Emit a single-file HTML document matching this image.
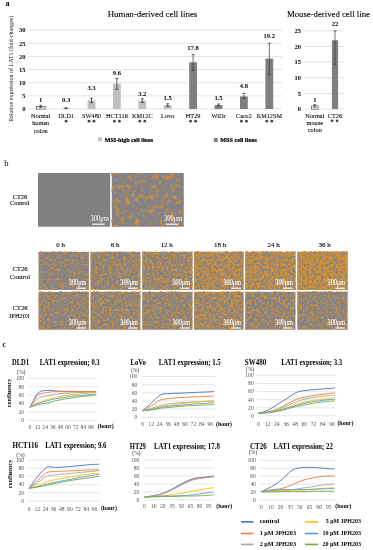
<!DOCTYPE html>
<html><head><meta charset="utf-8"><style>
html,body{margin:0;padding:0;background:#fff;}
svg{display:block;will-change:transform;}
</style></head><body>
<svg width="373" height="550" viewBox="0 0 373 550">
<defs>
<filter id="f12_20_5" x="0" y="0" width="1" height="1" color-interpolation-filters="sRGB">
<feTurbulence type="fractalNoise" baseFrequency="0.2" numOctaves="3" seed="5" result="n"/>
<feColorMatrix in="n" type="matrix" values="0 0 0 0 0.84  0 0 0 0 0.57  0 0 0 0 0.18  3.5 0 0 0 -1.743"/>
<feGaussianBlur stdDeviation="0.6"/>
</filter>
<filter id="f16_42_11" x="0" y="0" width="1" height="1" color-interpolation-filters="sRGB">
<feTurbulence type="fractalNoise" baseFrequency="0.42" numOctaves="3" seed="11" result="n"/>
<feColorMatrix in="n" type="matrix" values="0 0 0 0 0.84  0 0 0 0 0.57  0 0 0 0 0.18  3.5 0 0 0 -1.668"/>
<feGaussianBlur stdDeviation="0.6"/>
</filter>
<filter id="f25_42_12" x="0" y="0" width="1" height="1" color-interpolation-filters="sRGB">
<feTurbulence type="fractalNoise" baseFrequency="0.42" numOctaves="3" seed="12" result="n"/>
<feColorMatrix in="n" type="matrix" values="0 0 0 0 0.84  0 0 0 0 0.57  0 0 0 0 0.18  3.5 0 0 0 -1.533"/>
<feGaussianBlur stdDeviation="0.6"/>
</filter>
<filter id="f30_42_13" x="0" y="0" width="1" height="1" color-interpolation-filters="sRGB">
<feTurbulence type="fractalNoise" baseFrequency="0.42" numOctaves="3" seed="13" result="n"/>
<feColorMatrix in="n" type="matrix" values="0 0 0 0 0.84  0 0 0 0 0.57  0 0 0 0 0.18  3.5 0 0 0 -1.470"/>
<feGaussianBlur stdDeviation="0.6"/>
</filter>
<filter id="f50_42_14" x="0" y="0" width="1" height="1" color-interpolation-filters="sRGB">
<feTurbulence type="fractalNoise" baseFrequency="0.42" numOctaves="3" seed="14" result="n"/>
<feColorMatrix in="n" type="matrix" values="0 0 0 0 0.84  0 0 0 0 0.57  0 0 0 0 0.18  3.5 0 0 0 -1.250"/>
<feGaussianBlur stdDeviation="0.6"/>
</filter>
<filter id="f55_42_15" x="0" y="0" width="1" height="1" color-interpolation-filters="sRGB">
<feTurbulence type="fractalNoise" baseFrequency="0.42" numOctaves="3" seed="15" result="n"/>
<feColorMatrix in="n" type="matrix" values="0 0 0 0 0.84  0 0 0 0 0.57  0 0 0 0 0.18  3.5 0 0 0 -1.197"/>
<feGaussianBlur stdDeviation="0.6"/>
</filter>
<filter id="f66_42_16" x="0" y="0" width="1" height="1" color-interpolation-filters="sRGB">
<feTurbulence type="fractalNoise" baseFrequency="0.42" numOctaves="3" seed="16" result="n"/>
<feColorMatrix in="n" type="matrix" values="0 0 0 0 0.84  0 0 0 0 0.57  0 0 0 0 0.18  3.5 0 0 0 -1.077"/>
<feGaussianBlur stdDeviation="0.6"/>
</filter>
<filter id="f20_42_18" x="0" y="0" width="1" height="1" color-interpolation-filters="sRGB">
<feTurbulence type="fractalNoise" baseFrequency="0.42" numOctaves="3" seed="18" result="n"/>
<feColorMatrix in="n" type="matrix" values="0 0 0 0 0.84  0 0 0 0 0.57  0 0 0 0 0.18  3.5 0 0 0 -1.603"/>
<feGaussianBlur stdDeviation="0.6"/>
</filter>
<filter id="f25_42_19" x="0" y="0" width="1" height="1" color-interpolation-filters="sRGB">
<feTurbulence type="fractalNoise" baseFrequency="0.42" numOctaves="3" seed="19" result="n"/>
<feColorMatrix in="n" type="matrix" values="0 0 0 0 0.84  0 0 0 0 0.57  0 0 0 0 0.18  3.5 0 0 0 -1.533"/>
<feGaussianBlur stdDeviation="0.6"/>
</filter>
<filter id="f23_42_20" x="0" y="0" width="1" height="1" color-interpolation-filters="sRGB">
<feTurbulence type="fractalNoise" baseFrequency="0.42" numOctaves="3" seed="20" result="n"/>
<feColorMatrix in="n" type="matrix" values="0 0 0 0 0.84  0 0 0 0 0.57  0 0 0 0 0.18  3.5 0 0 0 -1.560"/>
<feGaussianBlur stdDeviation="0.6"/>
</filter>
<filter id="f36_42_21" x="0" y="0" width="1" height="1" color-interpolation-filters="sRGB">
<feTurbulence type="fractalNoise" baseFrequency="0.42" numOctaves="3" seed="21" result="n"/>
<feColorMatrix in="n" type="matrix" values="0 0 0 0 0.84  0 0 0 0 0.57  0 0 0 0 0.18  3.5 0 0 0 -1.401"/>
<feGaussianBlur stdDeviation="0.6"/>
</filter>
<filter id="f22_42_22" x="0" y="0" width="1" height="1" color-interpolation-filters="sRGB">
<feTurbulence type="fractalNoise" baseFrequency="0.42" numOctaves="3" seed="22" result="n"/>
<feColorMatrix in="n" type="matrix" values="0 0 0 0 0.84  0 0 0 0 0.57  0 0 0 0 0.18  3.5 0 0 0 -1.574"/>
<feGaussianBlur stdDeviation="0.6"/>
</filter>
<filter id="f20_42_23" x="0" y="0" width="1" height="1" color-interpolation-filters="sRGB">
<feTurbulence type="fractalNoise" baseFrequency="0.42" numOctaves="3" seed="23" result="n"/>
<feColorMatrix in="n" type="matrix" values="0 0 0 0 0.84  0 0 0 0 0.57  0 0 0 0 0.18  3.5 0 0 0 -1.603"/>
<feGaussianBlur stdDeviation="0.6"/>
</filter>
</defs>
<rect x="0" y="0" width="373" height="550" fill="#fff"/>
<text x="5.50" y="6.00" font-size="8" text-anchor="start" font-weight="700" fill="#000" font-family='"Liberation Serif", serif' >a</text>
<text x="107.70" y="16.50" font-size="9.2" text-anchor="start" font-weight="400" fill="#000" font-family='"Liberation Serif", serif' textLength="89.6" lengthAdjust="spacingAndGlyphs" stroke="#000" stroke-width="0.12">Human-derived cell lines</text>
<text x="286.90" y="16.90" font-size="9.2" text-anchor="start" font-weight="400" fill="#000" font-family='"Liberation Serif", serif' textLength="83" lengthAdjust="spacingAndGlyphs" stroke="#000" stroke-width="0.12">Mouse-derived cell line</text>
<text transform="translate(13.4,68.8) rotate(-90)" x="0" y="0" font-size="6" text-anchor="middle" font-family='"Liberation Serif", serif' textLength="106" lengthAdjust="spacingAndGlyphs" fill="#222">Relative expression of LAT1 (fold-changes)</text>
<line x1="28.00" y1="109.00" x2="282.00" y2="109.00" stroke="#dcdcdc" stroke-width="0.8"/>
<text x="25.50" y="111.21" font-size="6.5" text-anchor="end" font-weight="700" fill="#000" font-family='"Liberation Serif", serif' >0</text>
<line x1="28.00" y1="95.87" x2="282.00" y2="95.87" stroke="#dcdcdc" stroke-width="0.8"/>
<text x="25.50" y="98.08" font-size="6.5" text-anchor="end" font-weight="700" fill="#000" font-family='"Liberation Serif", serif' >5</text>
<line x1="28.00" y1="82.73" x2="282.00" y2="82.73" stroke="#dcdcdc" stroke-width="0.8"/>
<text x="25.50" y="84.94" font-size="6.5" text-anchor="end" font-weight="700" fill="#000" font-family='"Liberation Serif", serif' >10</text>
<line x1="28.00" y1="69.59" x2="282.00" y2="69.59" stroke="#dcdcdc" stroke-width="0.8"/>
<text x="25.50" y="71.80" font-size="6.5" text-anchor="end" font-weight="700" fill="#000" font-family='"Liberation Serif", serif' >15</text>
<line x1="28.00" y1="56.46" x2="282.00" y2="56.46" stroke="#dcdcdc" stroke-width="0.8"/>
<text x="25.50" y="58.67" font-size="6.5" text-anchor="end" font-weight="700" fill="#000" font-family='"Liberation Serif", serif' >20</text>
<line x1="28.00" y1="43.33" x2="282.00" y2="43.33" stroke="#dcdcdc" stroke-width="0.8"/>
<text x="25.50" y="45.54" font-size="6.5" text-anchor="end" font-weight="700" fill="#000" font-family='"Liberation Serif", serif' >25</text>
<line x1="28.00" y1="30.19" x2="282.00" y2="30.19" stroke="#dcdcdc" stroke-width="0.8"/>
<text x="25.50" y="32.40" font-size="6.5" text-anchor="end" font-weight="700" fill="#000" font-family='"Liberation Serif", serif' >30</text>
<line x1="304.30" y1="109.10" x2="343.90" y2="109.10" stroke="#dcdcdc" stroke-width="0.8"/>
<text x="301.00" y="111.31" font-size="6.5" text-anchor="end" font-weight="700" fill="#000" font-family='"Liberation Serif", serif' >0</text>
<line x1="304.30" y1="93.45" x2="343.90" y2="93.45" stroke="#dcdcdc" stroke-width="0.8"/>
<text x="301.00" y="95.66" font-size="6.5" text-anchor="end" font-weight="700" fill="#000" font-family='"Liberation Serif", serif' >5</text>
<line x1="304.30" y1="77.80" x2="343.90" y2="77.80" stroke="#dcdcdc" stroke-width="0.8"/>
<text x="301.00" y="80.01" font-size="6.5" text-anchor="end" font-weight="700" fill="#000" font-family='"Liberation Serif", serif' >10</text>
<line x1="304.30" y1="62.15" x2="343.90" y2="62.15" stroke="#dcdcdc" stroke-width="0.8"/>
<text x="301.00" y="64.36" font-size="6.5" text-anchor="end" font-weight="700" fill="#000" font-family='"Liberation Serif", serif' >15</text>
<line x1="304.30" y1="46.50" x2="343.90" y2="46.50" stroke="#dcdcdc" stroke-width="0.8"/>
<text x="301.00" y="48.71" font-size="6.5" text-anchor="end" font-weight="700" fill="#000" font-family='"Liberation Serif", serif' >20</text>
<line x1="304.30" y1="30.85" x2="343.90" y2="30.85" stroke="#dcdcdc" stroke-width="0.8"/>
<text x="301.00" y="33.06" font-size="6.5" text-anchor="end" font-weight="700" fill="#000" font-family='"Liberation Serif", serif' >25</text>
<rect x="36.20" y="106.37" width="9.00" height="2.63" fill="white" stroke="#222" stroke-width="0.55"/>
<line x1="40.70" y1="105.32" x2="40.70" y2="107.42" stroke="#222" stroke-width="0.7"/>
<line x1="39.20" y1="105.32" x2="42.20" y2="105.32" stroke="#222" stroke-width="0.7"/>
<line x1="39.20" y1="107.42" x2="42.20" y2="107.42" stroke="#222" stroke-width="0.7"/>
<text x="40.70" y="102.04" font-size="6.6" text-anchor="middle" font-weight="700" fill="#000" font-family='"Liberation Serif", serif' >1</text>
<text x="40.70" y="118.25" font-size="6.9" text-anchor="middle" font-weight="400" fill="#000" font-family='"Liberation Serif", serif' stroke="#000" stroke-width="0.08" textLength="19.25" lengthAdjust="spacingAndGlyphs">Normal</text>
<text x="40.70" y="125.45" font-size="6.9" text-anchor="middle" font-weight="400" fill="#000" font-family='"Liberation Serif", serif' stroke="#000" stroke-width="0.08" textLength="17.14" lengthAdjust="spacingAndGlyphs">human</text>
<text x="40.70" y="132.65" font-size="6.9" text-anchor="middle" font-weight="400" fill="#000" font-family='"Liberation Serif", serif' stroke="#000" stroke-width="0.08" textLength="14" lengthAdjust="spacingAndGlyphs">colon</text>
<rect x="62.20" y="108.21" width="7.80" height="0.79" fill="#c0c0c0" stroke="none" stroke-width="0"/>
<line x1="66.10" y1="107.82" x2="66.10" y2="108.61" stroke="#222" stroke-width="0.7"/>
<line x1="64.60" y1="107.82" x2="67.60" y2="107.82" stroke="#222" stroke-width="0.7"/>
<line x1="64.60" y1="108.61" x2="67.60" y2="108.61" stroke="#222" stroke-width="0.7"/>
<text x="66.10" y="102.04" font-size="6.6" text-anchor="middle" font-weight="700" fill="#000" font-family='"Liberation Serif", serif' >0.3</text>
<text x="66.10" y="118.25" font-size="6.9" text-anchor="middle" font-weight="400" fill="#000" font-family='"Liberation Serif", serif' stroke="#000" stroke-width="0.08" textLength="15.6" lengthAdjust="spacingAndGlyphs">DLD1</text>
<circle cx="66.10" cy="121.20" r="1.4" fill="#444"/>
<rect x="87.60" y="100.33" width="7.80" height="8.67" fill="#c0c0c0" stroke="none" stroke-width="0"/>
<line x1="91.50" y1="98.23" x2="91.50" y2="102.70" stroke="#222" stroke-width="0.7"/>
<line x1="90.00" y1="98.23" x2="93.00" y2="98.23" stroke="#222" stroke-width="0.7"/>
<line x1="90.00" y1="102.70" x2="93.00" y2="102.70" stroke="#222" stroke-width="0.7"/>
<text x="91.50" y="90.24" font-size="6.6" text-anchor="middle" font-weight="700" fill="#000" font-family='"Liberation Serif", serif' >3.3</text>
<text x="91.50" y="118.25" font-size="6.9" text-anchor="middle" font-weight="400" fill="#000" font-family='"Liberation Serif", serif' stroke="#000" stroke-width="0.08" textLength="18.91" lengthAdjust="spacingAndGlyphs">SW480</text>
<circle cx="89.00" cy="121.20" r="1.4" fill="#444"/>
<circle cx="94.00" cy="121.20" r="1.4" fill="#444"/>
<rect x="113.00" y="83.78" width="7.80" height="25.22" fill="#c0c0c0" stroke="none" stroke-width="0"/>
<line x1="116.90" y1="78.53" x2="116.90" y2="89.30" stroke="#222" stroke-width="0.7"/>
<line x1="115.40" y1="78.53" x2="118.40" y2="78.53" stroke="#222" stroke-width="0.7"/>
<line x1="115.40" y1="89.30" x2="118.40" y2="89.30" stroke="#222" stroke-width="0.7"/>
<text x="116.90" y="74.74" font-size="6.6" text-anchor="middle" font-weight="700" fill="#000" font-family='"Liberation Serif", serif' >9.6</text>
<text x="116.90" y="118.25" font-size="6.9" text-anchor="middle" font-weight="400" fill="#000" font-family='"Liberation Serif", serif' stroke="#000" stroke-width="0.08" textLength="21.81" lengthAdjust="spacingAndGlyphs">HCT116</text>
<circle cx="114.40" cy="121.20" r="1.4" fill="#444"/>
<circle cx="119.40" cy="121.20" r="1.4" fill="#444"/>
<rect x="138.40" y="100.59" width="7.80" height="8.41" fill="#c0c0c0" stroke="none" stroke-width="0"/>
<line x1="142.30" y1="98.75" x2="142.30" y2="102.43" stroke="#222" stroke-width="0.7"/>
<line x1="140.80" y1="98.75" x2="143.80" y2="98.75" stroke="#222" stroke-width="0.7"/>
<line x1="140.80" y1="102.43" x2="143.80" y2="102.43" stroke="#222" stroke-width="0.7"/>
<text x="142.30" y="96.04" font-size="6.6" text-anchor="middle" font-weight="700" fill="#000" font-family='"Liberation Serif", serif' >3.2</text>
<text x="142.30" y="118.25" font-size="6.9" text-anchor="middle" font-weight="400" fill="#000" font-family='"Liberation Serif", serif' stroke="#000" stroke-width="0.08" textLength="20.66" lengthAdjust="spacingAndGlyphs">KM12C</text>
<circle cx="139.80" cy="121.20" r="1.4" fill="#444"/>
<circle cx="144.80" cy="121.20" r="1.4" fill="#444"/>
<rect x="163.80" y="105.06" width="7.80" height="3.94" fill="#c0c0c0" stroke="none" stroke-width="0"/>
<line x1="167.70" y1="103.75" x2="167.70" y2="106.37" stroke="#222" stroke-width="0.7"/>
<line x1="166.20" y1="103.75" x2="169.20" y2="103.75" stroke="#222" stroke-width="0.7"/>
<line x1="166.20" y1="106.37" x2="169.20" y2="106.37" stroke="#222" stroke-width="0.7"/>
<text x="167.70" y="100.04" font-size="6.6" text-anchor="middle" font-weight="700" fill="#000" font-family='"Liberation Serif", serif' >1.5</text>
<text x="167.70" y="118.25" font-size="6.9" text-anchor="middle" font-weight="400" fill="#000" font-family='"Liberation Serif", serif' stroke="#000" stroke-width="0.08" textLength="13.3" lengthAdjust="spacingAndGlyphs">Lovo</text>
<rect x="189.20" y="62.24" width="7.80" height="46.76" fill="#7f7f7f" stroke="none" stroke-width="0"/>
<line x1="193.10" y1="54.62" x2="193.10" y2="70.38" stroke="#333" stroke-width="0.7"/>
<line x1="191.60" y1="54.62" x2="194.60" y2="54.62" stroke="#333" stroke-width="0.7"/>
<line x1="191.60" y1="70.38" x2="194.60" y2="70.38" stroke="#333" stroke-width="0.7"/>
<text x="193.10" y="49.94" font-size="6.6" text-anchor="middle" font-weight="700" fill="#000" font-family='"Liberation Serif", serif' >17.8</text>
<text x="193.10" y="118.25" font-size="6.9" text-anchor="middle" font-weight="400" fill="#000" font-family='"Liberation Serif", serif' stroke="#000" stroke-width="0.08" textLength="14.7" lengthAdjust="spacingAndGlyphs">HT29</text>
<circle cx="190.60" cy="121.20" r="1.4" fill="#444"/>
<circle cx="195.60" cy="121.20" r="1.4" fill="#444"/>
<rect x="214.60" y="105.06" width="7.80" height="3.94" fill="#7f7f7f" stroke="none" stroke-width="0"/>
<line x1="218.50" y1="104.01" x2="218.50" y2="105.85" stroke="#333" stroke-width="0.7"/>
<line x1="217.00" y1="104.01" x2="220.00" y2="104.01" stroke="#333" stroke-width="0.7"/>
<line x1="217.00" y1="105.85" x2="220.00" y2="105.85" stroke="#333" stroke-width="0.7"/>
<text x="218.50" y="99.64" font-size="6.6" text-anchor="middle" font-weight="700" fill="#000" font-family='"Liberation Serif", serif' >1.5</text>
<text x="218.50" y="118.25" font-size="6.9" text-anchor="middle" font-weight="400" fill="#000" font-family='"Liberation Serif", serif' stroke="#000" stroke-width="0.08" textLength="14.09" lengthAdjust="spacingAndGlyphs">WiDr</text>
<rect x="240.00" y="96.39" width="7.80" height="12.61" fill="#7f7f7f" stroke="none" stroke-width="0"/>
<line x1="243.90" y1="93.50" x2="243.90" y2="98.49" stroke="#333" stroke-width="0.7"/>
<line x1="242.40" y1="93.50" x2="245.40" y2="93.50" stroke="#333" stroke-width="0.7"/>
<line x1="242.40" y1="98.49" x2="245.40" y2="98.49" stroke="#333" stroke-width="0.7"/>
<text x="243.90" y="87.64" font-size="6.6" text-anchor="middle" font-weight="700" fill="#000" font-family='"Liberation Serif", serif' >4.8</text>
<text x="243.90" y="118.25" font-size="6.9" text-anchor="middle" font-weight="400" fill="#000" font-family='"Liberation Serif", serif' stroke="#000" stroke-width="0.08" textLength="15.6" lengthAdjust="spacingAndGlyphs">Caco2</text>
<circle cx="241.40" cy="121.20" r="1.4" fill="#444"/>
<circle cx="246.40" cy="121.20" r="1.4" fill="#444"/>
<rect x="265.40" y="58.56" width="7.80" height="50.44" fill="#7f7f7f" stroke="none" stroke-width="0"/>
<line x1="269.30" y1="43.33" x2="269.30" y2="74.59" stroke="#333" stroke-width="0.7"/>
<line x1="267.80" y1="43.33" x2="270.80" y2="43.33" stroke="#333" stroke-width="0.7"/>
<line x1="267.80" y1="74.59" x2="270.80" y2="74.59" stroke="#333" stroke-width="0.7"/>
<text x="269.30" y="37.54" font-size="6.6" text-anchor="middle" font-weight="700" fill="#000" font-family='"Liberation Serif", serif' >19.2</text>
<text x="269.30" y="118.25" font-size="6.9" text-anchor="middle" font-weight="400" fill="#000" font-family='"Liberation Serif", serif' stroke="#000" stroke-width="0.08" textLength="25.3" lengthAdjust="spacingAndGlyphs">KM12SM</text>
<circle cx="266.80" cy="121.20" r="1.4" fill="#444"/>
<circle cx="271.80" cy="121.20" r="1.4" fill="#444"/>
<rect x="311.55" y="105.97" width="6.50" height="3.13" fill="white" stroke="#222" stroke-width="0.55"/>
<line x1="314.80" y1="104.72" x2="314.80" y2="107.22" stroke="#222" stroke-width="0.7"/>
<line x1="313.30" y1="104.72" x2="316.30" y2="104.72" stroke="#222" stroke-width="0.7"/>
<line x1="313.30" y1="107.22" x2="316.30" y2="107.22" stroke="#222" stroke-width="0.7"/>
<text x="314.80" y="102.24" font-size="6.6" text-anchor="middle" font-weight="700" fill="#000" font-family='"Liberation Serif", serif' >1</text>
<text x="314.80" y="118.35" font-size="6.9" text-anchor="middle" font-weight="400" fill="#000" font-family='"Liberation Serif", serif' stroke="#000" stroke-width="0.08" textLength="19.25" lengthAdjust="spacingAndGlyphs">Normal</text>
<text x="314.80" y="125.25" font-size="6.9" text-anchor="middle" font-weight="400" fill="#000" font-family='"Liberation Serif", serif' stroke="#000" stroke-width="0.08" textLength="16.45" lengthAdjust="spacingAndGlyphs">mouse</text>
<text x="314.80" y="132.15" font-size="6.9" text-anchor="middle" font-weight="400" fill="#000" font-family='"Liberation Serif", serif' stroke="#000" stroke-width="0.08" textLength="14" lengthAdjust="spacingAndGlyphs">colon</text>
<rect x="331.90" y="40.24" width="6.20" height="68.86" fill="#7f7f7f" stroke="none" stroke-width="0"/>
<line x1="335.00" y1="30.85" x2="335.00" y2="64.34" stroke="#333" stroke-width="0.7"/>
<line x1="333.50" y1="30.85" x2="336.50" y2="30.85" stroke="#333" stroke-width="0.7"/>
<line x1="333.50" y1="64.34" x2="336.50" y2="64.34" stroke="#333" stroke-width="0.7"/>
<text x="335.00" y="25.74" font-size="6.6" text-anchor="middle" font-weight="700" fill="#000" font-family='"Liberation Serif", serif' >22</text>
<text x="335.00" y="118.35" font-size="6.9" text-anchor="middle" font-weight="400" fill="#000" font-family='"Liberation Serif", serif' stroke="#000" stroke-width="0.08" textLength="14.34" lengthAdjust="spacingAndGlyphs">CT26</text>
<circle cx="332.10" cy="120.80" r="1.4" fill="#444"/>
<circle cx="337.10" cy="120.80" r="1.4" fill="#444"/>
<rect x="98.20" y="137.20" width="3.80" height="4.00" fill="#c0c0c0" stroke="none" stroke-width="0"/>
<text x="104.70" y="141.80" font-size="6.2" text-anchor="start" font-weight="700" fill="#000" font-family='"Liberation Serif", serif' textLength="48.3" lengthAdjust="spacingAndGlyphs" stroke="#000" stroke-width="0.2">MSI-high cell lines</text>
<rect x="213.80" y="138.00" width="4.00" height="4.00" fill="#7f7f7f" stroke="none" stroke-width="0"/>
<text x="220.30" y="142.20" font-size="6.2" text-anchor="start" font-weight="700" fill="#000" font-family='"Liberation Serif", serif' textLength="36.5" lengthAdjust="spacingAndGlyphs" stroke="#000" stroke-width="0.2">MSS cell lines</text>
<text x="4.30" y="165.60" font-size="8.5" text-anchor="start" font-weight="400" fill="#000" font-family='"Liberation Serif", serif' >b</text>
<text x="20.00" y="198.84" font-size="6.6" text-anchor="middle" font-weight="400" fill="#000" font-family='"Liberation Serif", serif' stroke="#000" stroke-width="0.1" textLength="14.6" lengthAdjust="spacingAndGlyphs">CT26</text>
<text x="19.70" y="204.98" font-size="6.6" text-anchor="middle" font-weight="400" fill="#000" font-family='"Liberation Serif", serif' stroke="#000" stroke-width="0.1" textLength="19.4" lengthAdjust="spacingAndGlyphs">Control</text>
<rect x="38.00" y="173.00" width="72.20" height="53.70" fill="#808080" stroke="none" stroke-width="0"/>
<text x="108.70" y="221.30" font-size="7.6" text-anchor="end" font-weight="400" fill="#f4f4f4" font-family='"Liberation Serif", serif' textLength="18.2" lengthAdjust="spacingAndGlyphs" stroke="#f4f4f4" stroke-width="0.05">300μm</text>
<line x1="92.20" y1="224.20" x2="104.80" y2="224.20" stroke="#f4f4f4" stroke-width="1.3"/>
<rect x="111.80" y="173.00" width="72.00" height="53.70" fill="#838289" stroke="none" stroke-width="0"/>
<rect x="111.80" y="173.00" width="72.00" height="53.70" fill="#808084" filter="url(#f12_20_5)"/>
<text x="182.30" y="221.30" font-size="7.6" text-anchor="end" font-weight="400" fill="#f4f4f4" font-family='"Liberation Serif", serif' textLength="18.2" lengthAdjust="spacingAndGlyphs" stroke="#f4f4f4" stroke-width="0.05">300μm</text>
<line x1="165.80" y1="224.20" x2="178.40" y2="224.20" stroke="#f4f4f4" stroke-width="1.3"/>
<text x="60.70" y="246.58" font-size="7.0" text-anchor="middle" font-weight="400" fill="#000" font-family='"Liberation Serif", serif' stroke="#000" stroke-width="0.1">0 h</text>
<text x="115.00" y="246.58" font-size="7.0" text-anchor="middle" font-weight="400" fill="#000" font-family='"Liberation Serif", serif' stroke="#000" stroke-width="0.1">6 h</text>
<text x="166.50" y="246.58" font-size="7.0" text-anchor="middle" font-weight="400" fill="#000" font-family='"Liberation Serif", serif' stroke="#000" stroke-width="0.1">12 h</text>
<text x="220.00" y="246.58" font-size="7.0" text-anchor="middle" font-weight="400" fill="#000" font-family='"Liberation Serif", serif' stroke="#000" stroke-width="0.1">18 h</text>
<text x="273.60" y="246.58" font-size="7.0" text-anchor="middle" font-weight="400" fill="#000" font-family='"Liberation Serif", serif' stroke="#000" stroke-width="0.1">24 h</text>
<text x="324.50" y="246.58" font-size="7.0" text-anchor="middle" font-weight="400" fill="#000" font-family='"Liberation Serif", serif' stroke="#000" stroke-width="0.1">36 h</text>
<rect x="38.60" y="251.90" width="50.30" height="38.00" fill="#838289" stroke="none" stroke-width="0"/>
<rect x="38.60" y="251.90" width="50.30" height="38.00" fill="#808084" filter="url(#f16_42_11)"/>
<text x="86.50" y="285.30" font-size="7.4" text-anchor="end" font-weight="400" fill="#f4f4f4" font-family='"Liberation Serif", serif' textLength="17.7" lengthAdjust="spacingAndGlyphs" stroke="#f4f4f4" stroke-width="0.15">300μm</text>
<line x1="76.60" y1="288.20" x2="86.10" y2="288.20" stroke="#f4f4f4" stroke-width="1.3"/>
<rect x="90.50" y="251.90" width="49.90" height="38.00" fill="#838289" stroke="none" stroke-width="0"/>
<rect x="90.50" y="251.90" width="49.90" height="38.00" fill="#808084" filter="url(#f25_42_12)"/>
<text x="138.00" y="285.30" font-size="7.4" text-anchor="end" font-weight="400" fill="#f4f4f4" font-family='"Liberation Serif", serif' textLength="17.7" lengthAdjust="spacingAndGlyphs" stroke="#f4f4f4" stroke-width="0.15">300μm</text>
<line x1="128.10" y1="288.20" x2="137.60" y2="288.20" stroke="#f4f4f4" stroke-width="1.3"/>
<rect x="142.20" y="251.90" width="50.30" height="38.00" fill="#838289" stroke="none" stroke-width="0"/>
<rect x="142.20" y="251.90" width="50.30" height="38.00" fill="#808084" filter="url(#f30_42_13)"/>
<text x="190.10" y="285.30" font-size="7.4" text-anchor="end" font-weight="400" fill="#f4f4f4" font-family='"Liberation Serif", serif' textLength="17.7" lengthAdjust="spacingAndGlyphs" stroke="#f4f4f4" stroke-width="0.15">300μm</text>
<line x1="180.20" y1="288.20" x2="189.70" y2="288.20" stroke="#f4f4f4" stroke-width="1.3"/>
<rect x="194.10" y="251.90" width="49.40" height="38.00" fill="#838289" stroke="none" stroke-width="0"/>
<rect x="194.10" y="251.90" width="49.40" height="38.00" fill="#808084" filter="url(#f50_42_14)"/>
<text x="241.10" y="285.30" font-size="7.4" text-anchor="end" font-weight="400" fill="#f4f4f4" font-family='"Liberation Serif", serif' textLength="17.7" lengthAdjust="spacingAndGlyphs" stroke="#f4f4f4" stroke-width="0.15">300μm</text>
<line x1="231.20" y1="288.20" x2="240.70" y2="288.20" stroke="#f4f4f4" stroke-width="1.3"/>
<rect x="245.20" y="251.90" width="50.20" height="38.00" fill="#838289" stroke="none" stroke-width="0"/>
<rect x="245.20" y="251.90" width="50.20" height="38.00" fill="#808084" filter="url(#f55_42_15)"/>
<text x="293.00" y="285.30" font-size="7.4" text-anchor="end" font-weight="400" fill="#f4f4f4" font-family='"Liberation Serif", serif' textLength="17.7" lengthAdjust="spacingAndGlyphs" stroke="#f4f4f4" stroke-width="0.15">300μm</text>
<line x1="283.10" y1="288.20" x2="292.60" y2="288.20" stroke="#f4f4f4" stroke-width="1.3"/>
<rect x="297.30" y="251.90" width="50.30" height="38.00" fill="#838289" stroke="none" stroke-width="0"/>
<rect x="297.30" y="251.90" width="50.30" height="38.00" fill="#808084" filter="url(#f66_42_16)"/>
<text x="345.20" y="285.30" font-size="7.4" text-anchor="end" font-weight="400" fill="#f4f4f4" font-family='"Liberation Serif", serif' textLength="17.7" lengthAdjust="spacingAndGlyphs" stroke="#f4f4f4" stroke-width="0.15">300μm</text>
<line x1="335.30" y1="288.20" x2="344.80" y2="288.20" stroke="#f4f4f4" stroke-width="1.3"/>
<rect x="38.60" y="291.90" width="50.30" height="37.80" fill="#838289" stroke="none" stroke-width="0"/>
<rect x="38.60" y="291.90" width="50.30" height="37.80" fill="#808084" filter="url(#f20_42_18)"/>
<text x="86.50" y="325.10" font-size="7.4" text-anchor="end" font-weight="400" fill="#f4f4f4" font-family='"Liberation Serif", serif' textLength="17.7" lengthAdjust="spacingAndGlyphs" stroke="#f4f4f4" stroke-width="0.15">300μm</text>
<line x1="76.60" y1="328.00" x2="86.10" y2="328.00" stroke="#f4f4f4" stroke-width="1.3"/>
<rect x="90.50" y="291.90" width="49.90" height="37.80" fill="#838289" stroke="none" stroke-width="0"/>
<rect x="90.50" y="291.90" width="49.90" height="37.80" fill="#808084" filter="url(#f25_42_19)"/>
<text x="138.00" y="325.10" font-size="7.4" text-anchor="end" font-weight="400" fill="#f4f4f4" font-family='"Liberation Serif", serif' textLength="17.7" lengthAdjust="spacingAndGlyphs" stroke="#f4f4f4" stroke-width="0.15">300μm</text>
<line x1="128.10" y1="328.00" x2="137.60" y2="328.00" stroke="#f4f4f4" stroke-width="1.3"/>
<rect x="142.20" y="291.90" width="50.30" height="37.80" fill="#838289" stroke="none" stroke-width="0"/>
<rect x="142.20" y="291.90" width="50.30" height="37.80" fill="#808084" filter="url(#f23_42_20)"/>
<text x="190.10" y="325.10" font-size="7.4" text-anchor="end" font-weight="400" fill="#f4f4f4" font-family='"Liberation Serif", serif' textLength="17.7" lengthAdjust="spacingAndGlyphs" stroke="#f4f4f4" stroke-width="0.15">300μm</text>
<line x1="180.20" y1="328.00" x2="189.70" y2="328.00" stroke="#f4f4f4" stroke-width="1.3"/>
<rect x="194.10" y="291.90" width="49.40" height="37.80" fill="#838289" stroke="none" stroke-width="0"/>
<rect x="194.10" y="291.90" width="49.40" height="37.80" fill="#808084" filter="url(#f36_42_21)"/>
<text x="241.10" y="325.10" font-size="7.4" text-anchor="end" font-weight="400" fill="#f4f4f4" font-family='"Liberation Serif", serif' textLength="17.7" lengthAdjust="spacingAndGlyphs" stroke="#f4f4f4" stroke-width="0.15">300μm</text>
<line x1="231.20" y1="328.00" x2="240.70" y2="328.00" stroke="#f4f4f4" stroke-width="1.3"/>
<rect x="245.20" y="291.90" width="50.20" height="37.80" fill="#838289" stroke="none" stroke-width="0"/>
<rect x="245.20" y="291.90" width="50.20" height="37.80" fill="#808084" filter="url(#f22_42_22)"/>
<text x="293.00" y="325.10" font-size="7.4" text-anchor="end" font-weight="400" fill="#f4f4f4" font-family='"Liberation Serif", serif' textLength="17.7" lengthAdjust="spacingAndGlyphs" stroke="#f4f4f4" stroke-width="0.15">300μm</text>
<line x1="283.10" y1="328.00" x2="292.60" y2="328.00" stroke="#f4f4f4" stroke-width="1.3"/>
<rect x="297.30" y="291.90" width="50.30" height="37.80" fill="#838289" stroke="none" stroke-width="0"/>
<rect x="297.30" y="291.90" width="50.30" height="37.80" fill="#808084" filter="url(#f20_42_23)"/>
<text x="345.20" y="325.10" font-size="7.4" text-anchor="end" font-weight="400" fill="#f4f4f4" font-family='"Liberation Serif", serif' textLength="17.7" lengthAdjust="spacingAndGlyphs" stroke="#f4f4f4" stroke-width="0.15">300μm</text>
<line x1="335.30" y1="328.00" x2="344.80" y2="328.00" stroke="#f4f4f4" stroke-width="1.3"/>
<text x="20.00" y="270.54" font-size="6.6" text-anchor="middle" font-weight="400" fill="#000" font-family='"Liberation Serif", serif' stroke="#000" stroke-width="0.1" textLength="15.2" lengthAdjust="spacingAndGlyphs">CT26</text>
<text x="19.90" y="278.58" font-size="6.6" text-anchor="middle" font-weight="400" fill="#000" font-family='"Liberation Serif", serif' stroke="#000" stroke-width="0.1" textLength="20.4" lengthAdjust="spacingAndGlyphs">Control</text>
<text x="20.00" y="309.64" font-size="6.6" text-anchor="middle" font-weight="400" fill="#000" font-family='"Liberation Serif", serif' stroke="#000" stroke-width="0.1" textLength="15.2" lengthAdjust="spacingAndGlyphs">CT26</text>
<text x="19.05" y="317.64" font-size="6.6" text-anchor="middle" font-weight="400" fill="#000" font-family='"Liberation Serif", serif' stroke="#000" stroke-width="0.1" textLength="20.5" lengthAdjust="spacingAndGlyphs">JPH203</text>
<text x="2.60" y="347.30" font-size="7.5" text-anchor="start" font-weight="700" fill="#000" font-family='"Liberation Serif", serif' >c</text>
<text x="12.00" y="364.90" font-size="7.3" text-anchor="start" font-weight="700" fill="#000" font-family='"Liberation Serif", serif' textLength="17" lengthAdjust="spacingAndGlyphs">DLD1</text>
<text x="39.70" y="364.90" font-size="7.3" text-anchor="start" font-weight="700" fill="#000" font-family='"Liberation Serif", serif' textLength="60" lengthAdjust="spacingAndGlyphs">LAT1 expression; 0.3</text>
<text x="21.30" y="373.60" font-size="5.6" text-anchor="middle" font-weight="400" fill="#333" font-family='"Liberation Serif", serif' >(%)</text>
<line x1="28.00" y1="420.30" x2="97.00" y2="420.30" stroke="#dcdcdc" stroke-width="0.7"/>
<text x="24.10" y="422.20" font-size="5.6" text-anchor="end" font-weight="400" fill="#555" font-family='"Liberation Serif", serif' >0</text>
<line x1="28.00" y1="411.90" x2="97.00" y2="411.90" stroke="#dcdcdc" stroke-width="0.7"/>
<text x="24.10" y="413.80" font-size="5.6" text-anchor="end" font-weight="400" fill="#555" font-family='"Liberation Serif", serif' >20</text>
<line x1="28.00" y1="403.50" x2="97.00" y2="403.50" stroke="#dcdcdc" stroke-width="0.7"/>
<text x="24.10" y="405.40" font-size="5.6" text-anchor="end" font-weight="400" fill="#555" font-family='"Liberation Serif", serif' >40</text>
<line x1="28.00" y1="395.10" x2="97.00" y2="395.10" stroke="#dcdcdc" stroke-width="0.7"/>
<text x="24.10" y="397.00" font-size="5.6" text-anchor="end" font-weight="400" fill="#555" font-family='"Liberation Serif", serif' >60</text>
<line x1="28.00" y1="386.70" x2="97.00" y2="386.70" stroke="#dcdcdc" stroke-width="0.7"/>
<text x="24.10" y="388.60" font-size="5.6" text-anchor="end" font-weight="400" fill="#555" font-family='"Liberation Serif", serif' >80</text>
<line x1="28.00" y1="378.30" x2="97.00" y2="378.30" stroke="#dcdcdc" stroke-width="0.7"/>
<text x="24.10" y="380.20" font-size="5.6" text-anchor="end" font-weight="400" fill="#555" font-family='"Liberation Serif", serif' >100</text>
<text x="29.90" y="428.50" font-size="5.6" text-anchor="middle" font-weight="400" fill="#555" font-family='"Liberation Serif", serif' >0</text>
<text x="37.54" y="428.50" font-size="5.6" text-anchor="middle" font-weight="400" fill="#555" font-family='"Liberation Serif", serif' >12</text>
<text x="45.17" y="428.50" font-size="5.6" text-anchor="middle" font-weight="400" fill="#555" font-family='"Liberation Serif", serif' >24</text>
<text x="52.81" y="428.50" font-size="5.6" text-anchor="middle" font-weight="400" fill="#555" font-family='"Liberation Serif", serif' >36</text>
<text x="60.45" y="428.50" font-size="5.6" text-anchor="middle" font-weight="400" fill="#555" font-family='"Liberation Serif", serif' >48</text>
<text x="68.09" y="428.50" font-size="5.6" text-anchor="middle" font-weight="400" fill="#555" font-family='"Liberation Serif", serif' >60</text>
<text x="75.72" y="428.50" font-size="5.6" text-anchor="middle" font-weight="400" fill="#555" font-family='"Liberation Serif", serif' >72</text>
<text x="83.36" y="428.50" font-size="5.6" text-anchor="middle" font-weight="400" fill="#555" font-family='"Liberation Serif", serif' >84</text>
<text x="91.00" y="428.50" font-size="5.6" text-anchor="middle" font-weight="400" fill="#555" font-family='"Liberation Serif", serif' >96</text>
<text x="97.70" y="428.04" font-size="5.9" text-anchor="start" font-weight="700" fill="#000" font-family='"Liberation Serif", serif' >(hour)</text>
<text transform="translate(11.40,393.00) rotate(-90)" x="0" y="0" font-size="7" font-weight="700" text-anchor="middle" font-family='"Liberation Serif", serif' textLength="28.5" lengthAdjust="spacingAndGlyphs">confluency</text>
<path d="M29.90,407.28 C31.28,404.90 35.42,395.80 38.19,393.00 C40.95,390.20 43.71,390.83 46.48,390.48 C49.24,390.13 52.00,390.76 54.76,390.90 C57.53,391.04 60.29,391.25 63.05,391.32 C65.81,391.39 68.58,391.25 71.34,391.32 C74.10,391.39 76.86,391.67 79.62,391.74 C82.39,391.81 85.15,391.74 87.91,391.74 C90.68,391.74 94.82,391.74 96.20,391.74" fill="none" stroke="#4472c4" stroke-width="0.9"/>
<path d="M29.90,407.28 C31.28,405.25 35.42,397.55 38.19,395.10 C40.95,392.65 43.71,393.14 46.48,392.58 C49.24,392.02 52.00,391.88 54.76,391.74 C57.53,391.60 60.29,391.74 63.05,391.74 C65.81,391.74 68.58,391.74 71.34,391.74 C74.10,391.74 76.86,391.74 79.62,391.74 C82.39,391.74 85.15,391.74 87.91,391.74 C90.68,391.74 94.82,391.74 96.20,391.74" fill="none" stroke="#ed7d31" stroke-width="0.9"/>
<path d="M29.90,407.28 C31.28,405.81 35.42,400.35 38.19,398.46 C40.95,396.57 43.71,396.64 46.48,395.94 C49.24,395.24 52.00,394.68 54.76,394.26 C57.53,393.84 60.29,393.63 63.05,393.42 C65.81,393.21 68.58,393.14 71.34,393.00 C74.10,392.86 76.86,392.65 79.62,392.58 C82.39,392.51 85.15,392.65 87.91,392.58 C90.68,392.51 94.82,392.23 96.20,392.16" fill="none" stroke="#a5a5a5" stroke-width="0.9"/>
<path d="M29.90,407.28 C31.28,406.51 35.42,403.92 38.19,402.66 C40.95,401.40 43.71,400.56 46.48,399.72 C49.24,398.88 52.00,398.25 54.76,397.62 C57.53,396.99 60.29,396.43 63.05,395.94 C65.81,395.45 68.58,395.03 71.34,394.68 C74.10,394.33 76.86,394.12 79.62,393.84 C82.39,393.56 85.15,393.21 87.91,393.00 C90.68,392.79 94.82,392.65 96.20,392.58" fill="none" stroke="#ffc000" stroke-width="0.9"/>
<path d="M29.90,407.28 C31.28,406.65 35.42,404.55 38.19,403.50 C40.95,402.45 43.71,401.75 46.48,400.98 C49.24,400.21 52.00,399.44 54.76,398.88 C57.53,398.32 60.29,398.04 63.05,397.62 C65.81,397.20 68.58,396.71 71.34,396.36 C74.10,396.01 76.86,395.80 79.62,395.52 C82.39,395.24 85.15,394.96 87.91,394.68 C90.68,394.40 94.82,393.98 96.20,393.84" fill="none" stroke="#5b9bd5" stroke-width="0.9"/>
<path d="M29.90,407.28 C31.28,406.86 35.42,405.46 38.19,404.76 C40.95,404.06 43.71,403.71 46.48,403.08 C49.24,402.45 52.00,401.61 54.76,400.98 C57.53,400.35 60.29,399.79 63.05,399.30 C65.81,398.81 68.58,398.46 71.34,398.04 C74.10,397.62 76.86,397.13 79.62,396.78 C82.39,396.43 85.15,396.22 87.91,395.94 C90.68,395.66 94.82,395.24 96.20,395.10" fill="none" stroke="#70ad47" stroke-width="0.9"/>
<text x="130.50" y="364.90" font-size="7.3" text-anchor="start" font-weight="700" fill="#000" font-family='"Liberation Serif", serif' textLength="15.5" lengthAdjust="spacingAndGlyphs">LoVo</text>
<text x="158.80" y="364.90" font-size="7.3" text-anchor="start" font-weight="700" fill="#000" font-family='"Liberation Serif", serif' textLength="62" lengthAdjust="spacingAndGlyphs">LAT1 expression; 1.5</text>
<text x="135.10" y="372.30" font-size="5.6" text-anchor="middle" font-weight="400" fill="#333" font-family='"Liberation Serif", serif' >(%)</text>
<line x1="141.70" y1="417.20" x2="215.00" y2="417.20" stroke="#dcdcdc" stroke-width="0.7"/>
<text x="137.40" y="419.10" font-size="5.6" text-anchor="end" font-weight="400" fill="#555" font-family='"Liberation Serif", serif' >0</text>
<line x1="141.70" y1="409.06" x2="215.00" y2="409.06" stroke="#dcdcdc" stroke-width="0.7"/>
<text x="137.40" y="410.96" font-size="5.6" text-anchor="end" font-weight="400" fill="#555" font-family='"Liberation Serif", serif' >20</text>
<line x1="141.70" y1="400.92" x2="215.00" y2="400.92" stroke="#dcdcdc" stroke-width="0.7"/>
<text x="137.40" y="402.82" font-size="5.6" text-anchor="end" font-weight="400" fill="#555" font-family='"Liberation Serif", serif' >40</text>
<line x1="141.70" y1="392.78" x2="215.00" y2="392.78" stroke="#dcdcdc" stroke-width="0.7"/>
<text x="137.40" y="394.68" font-size="5.6" text-anchor="end" font-weight="400" fill="#555" font-family='"Liberation Serif", serif' >60</text>
<line x1="141.70" y1="384.64" x2="215.00" y2="384.64" stroke="#dcdcdc" stroke-width="0.7"/>
<text x="137.40" y="386.54" font-size="5.6" text-anchor="end" font-weight="400" fill="#555" font-family='"Liberation Serif", serif' >80</text>
<line x1="141.70" y1="376.50" x2="215.00" y2="376.50" stroke="#dcdcdc" stroke-width="0.7"/>
<text x="137.40" y="378.40" font-size="5.6" text-anchor="end" font-weight="400" fill="#555" font-family='"Liberation Serif", serif' >100</text>
<text x="142.70" y="426.10" font-size="5.6" text-anchor="middle" font-weight="400" fill="#555" font-family='"Liberation Serif", serif' >0</text>
<text x="151.15" y="426.10" font-size="5.6" text-anchor="middle" font-weight="400" fill="#555" font-family='"Liberation Serif", serif' >12</text>
<text x="159.60" y="426.10" font-size="5.6" text-anchor="middle" font-weight="400" fill="#555" font-family='"Liberation Serif", serif' >24</text>
<text x="168.05" y="426.10" font-size="5.6" text-anchor="middle" font-weight="400" fill="#555" font-family='"Liberation Serif", serif' >36</text>
<text x="176.50" y="426.10" font-size="5.6" text-anchor="middle" font-weight="400" fill="#555" font-family='"Liberation Serif", serif' >48</text>
<text x="184.95" y="426.10" font-size="5.6" text-anchor="middle" font-weight="400" fill="#555" font-family='"Liberation Serif", serif' >60</text>
<text x="193.40" y="426.10" font-size="5.6" text-anchor="middle" font-weight="400" fill="#555" font-family='"Liberation Serif", serif' >72</text>
<text x="201.85" y="426.10" font-size="5.6" text-anchor="middle" font-weight="400" fill="#555" font-family='"Liberation Serif", serif' >84</text>
<text x="210.30" y="426.10" font-size="5.6" text-anchor="middle" font-weight="400" fill="#555" font-family='"Liberation Serif", serif' >96</text>
<text x="216.00" y="425.64" font-size="5.9" text-anchor="start" font-weight="700" fill="#000" font-family='"Liberation Serif", serif' >(hour)</text>
<path d="M142.70,410.69 C144.19,409.40 148.66,405.60 151.64,402.95 C154.62,400.31 157.60,396.38 160.57,394.81 C163.55,393.25 166.53,393.87 169.51,393.59 C172.49,393.32 175.47,393.32 178.45,393.19 C181.43,393.05 184.41,392.92 187.39,392.78 C190.37,392.64 193.35,392.51 196.32,392.37 C199.30,392.24 202.28,392.10 205.26,391.97 C208.24,391.83 212.71,391.63 214.20,391.56" fill="none" stroke="#4472c4" stroke-width="0.9"/>
<path d="M142.70,410.69 C144.19,409.87 148.66,407.57 151.64,405.80 C154.62,404.04 157.60,401.33 160.57,400.11 C163.55,398.88 166.53,398.88 169.51,398.48 C172.49,398.07 175.47,397.87 178.45,397.66 C181.43,397.46 184.41,397.39 187.39,397.26 C190.37,397.12 193.35,396.99 196.32,396.85 C199.30,396.71 202.28,396.58 205.26,396.44 C208.24,396.31 212.71,396.10 214.20,396.04" fill="none" stroke="#ed7d31" stroke-width="0.9"/>
<path d="M142.70,410.69 C144.19,410.28 148.66,409.13 151.64,408.25 C154.62,407.36 157.60,406.14 160.57,405.40 C163.55,404.65 166.53,404.18 169.51,403.77 C172.49,403.36 175.47,403.23 178.45,402.95 C181.43,402.68 184.41,402.34 187.39,402.14 C190.37,401.94 193.35,401.87 196.32,401.73 C199.30,401.60 202.28,401.46 205.26,401.33 C208.24,401.19 212.71,400.99 214.20,400.92" fill="none" stroke="#a5a5a5" stroke-width="0.9"/>
<path d="M142.70,410.69 C144.19,410.42 148.66,409.74 151.64,409.06 C154.62,408.38 157.60,407.23 160.57,406.62 C163.55,406.01 166.53,405.80 169.51,405.40 C172.49,404.99 175.47,404.58 178.45,404.18 C181.43,403.77 184.41,403.29 187.39,402.95 C190.37,402.62 193.35,402.41 196.32,402.14 C199.30,401.87 202.28,401.60 205.26,401.33 C208.24,401.06 212.71,400.65 214.20,400.51" fill="none" stroke="#ffc000" stroke-width="0.9"/>
<path d="M142.70,410.69 C144.19,410.48 148.66,410.01 151.64,409.47 C154.62,408.92 157.60,407.97 160.57,407.43 C163.55,406.89 166.53,406.55 169.51,406.21 C172.49,405.87 175.47,405.67 178.45,405.40 C181.43,405.13 184.41,404.85 187.39,404.58 C190.37,404.31 193.35,403.97 196.32,403.77 C199.30,403.57 202.28,403.57 205.26,403.36 C208.24,403.16 212.71,402.68 214.20,402.55" fill="none" stroke="#5b9bd5" stroke-width="0.9"/>
<path d="M142.70,410.69 C144.19,410.55 148.66,410.28 151.64,409.87 C154.62,409.47 157.60,408.65 160.57,408.25 C163.55,407.84 166.53,407.70 169.51,407.43 C172.49,407.16 175.47,406.89 178.45,406.62 C181.43,406.35 184.41,406.01 187.39,405.80 C190.37,405.60 193.35,405.53 196.32,405.40 C199.30,405.26 202.28,405.13 205.26,404.99 C208.24,404.85 212.71,404.65 214.20,404.58" fill="none" stroke="#70ad47" stroke-width="0.9"/>
<text x="244.80" y="364.90" font-size="7.3" text-anchor="start" font-weight="700" fill="#000" font-family='"Liberation Serif", serif' textLength="21.4" lengthAdjust="spacingAndGlyphs">SW480</text>
<text x="281.20" y="364.90" font-size="7.3" text-anchor="start" font-weight="700" fill="#000" font-family='"Liberation Serif", serif' textLength="61" lengthAdjust="spacingAndGlyphs">LAT1 expression; 3.3</text>
<text x="250.00" y="370.90" font-size="5.6" text-anchor="middle" font-weight="400" fill="#333" font-family='"Liberation Serif", serif' >(%)</text>
<line x1="256.90" y1="415.80" x2="335.80" y2="415.80" stroke="#dcdcdc" stroke-width="0.7"/>
<text x="253.70" y="417.70" font-size="5.6" text-anchor="end" font-weight="400" fill="#555" font-family='"Liberation Serif", serif' >0</text>
<line x1="256.90" y1="407.72" x2="335.80" y2="407.72" stroke="#dcdcdc" stroke-width="0.7"/>
<text x="253.70" y="409.62" font-size="5.6" text-anchor="end" font-weight="400" fill="#555" font-family='"Liberation Serif", serif' >20</text>
<line x1="256.90" y1="399.64" x2="335.80" y2="399.64" stroke="#dcdcdc" stroke-width="0.7"/>
<text x="253.70" y="401.54" font-size="5.6" text-anchor="end" font-weight="400" fill="#555" font-family='"Liberation Serif", serif' >40</text>
<line x1="256.90" y1="391.56" x2="335.80" y2="391.56" stroke="#dcdcdc" stroke-width="0.7"/>
<text x="253.70" y="393.46" font-size="5.6" text-anchor="end" font-weight="400" fill="#555" font-family='"Liberation Serif", serif' >60</text>
<line x1="256.90" y1="383.48" x2="335.80" y2="383.48" stroke="#dcdcdc" stroke-width="0.7"/>
<text x="253.70" y="385.38" font-size="5.6" text-anchor="end" font-weight="400" fill="#555" font-family='"Liberation Serif", serif' >80</text>
<line x1="256.90" y1="375.40" x2="335.80" y2="375.40" stroke="#dcdcdc" stroke-width="0.7"/>
<text x="253.70" y="377.30" font-size="5.6" text-anchor="end" font-weight="400" fill="#555" font-family='"Liberation Serif", serif' >100</text>
<text x="258.30" y="425.90" font-size="5.6" text-anchor="middle" font-weight="400" fill="#555" font-family='"Liberation Serif", serif' >0</text>
<text x="267.51" y="425.90" font-size="5.6" text-anchor="middle" font-weight="400" fill="#555" font-family='"Liberation Serif", serif' >12</text>
<text x="276.73" y="425.90" font-size="5.6" text-anchor="middle" font-weight="400" fill="#555" font-family='"Liberation Serif", serif' >24</text>
<text x="285.94" y="425.90" font-size="5.6" text-anchor="middle" font-weight="400" fill="#555" font-family='"Liberation Serif", serif' >36</text>
<text x="295.15" y="425.90" font-size="5.6" text-anchor="middle" font-weight="400" fill="#555" font-family='"Liberation Serif", serif' >48</text>
<text x="304.36" y="425.90" font-size="5.6" text-anchor="middle" font-weight="400" fill="#555" font-family='"Liberation Serif", serif' >60</text>
<text x="313.57" y="425.90" font-size="5.6" text-anchor="middle" font-weight="400" fill="#555" font-family='"Liberation Serif", serif' >72</text>
<text x="322.79" y="425.90" font-size="5.6" text-anchor="middle" font-weight="400" fill="#555" font-family='"Liberation Serif", serif' >84</text>
<text x="332.00" y="425.90" font-size="5.6" text-anchor="middle" font-weight="400" fill="#555" font-family='"Liberation Serif", serif' >96</text>
<text x="337.40" y="425.44" font-size="5.9" text-anchor="start" font-weight="700" fill="#000" font-family='"Liberation Serif", serif' >(hour)</text>
<path d="M258.30,413.38 C259.90,412.84 264.69,411.63 267.89,410.14 C271.08,408.66 274.28,406.44 277.48,404.49 C280.67,402.54 283.87,400.45 287.06,398.43 C290.26,396.41 293.45,393.71 296.65,392.37 C299.85,391.02 303.04,390.82 306.24,390.35 C309.43,389.88 312.63,389.81 315.82,389.54 C319.02,389.27 322.22,389.00 325.41,388.73 C328.61,388.46 333.40,388.06 335.00,387.92" fill="none" stroke="#4472c4" stroke-width="0.9"/>
<path d="M258.30,413.38 C259.90,413.11 264.69,412.50 267.89,411.76 C271.08,411.02 274.28,410.21 277.48,408.93 C280.67,407.65 283.87,405.70 287.06,404.08 C290.26,402.47 293.45,400.45 296.65,399.24 C299.85,398.02 303.04,397.49 306.24,396.81 C309.43,396.14 312.63,395.67 315.82,395.20 C319.02,394.72 322.22,394.39 325.41,393.98 C328.61,393.58 333.40,392.97 335.00,392.77" fill="none" stroke="#ed7d31" stroke-width="0.9"/>
<path d="M258.30,413.38 C259.90,413.17 264.69,412.77 267.89,412.16 C271.08,411.56 274.28,410.82 277.48,409.74 C280.67,408.66 283.87,407.05 287.06,405.70 C290.26,404.35 293.45,402.80 296.65,401.66 C299.85,400.52 303.04,399.57 306.24,398.83 C309.43,398.09 312.63,397.69 315.82,397.22 C319.02,396.74 322.22,396.34 325.41,396.00 C328.61,395.67 333.40,395.33 335.00,395.20" fill="none" stroke="#a5a5a5" stroke-width="0.9"/>
<path d="M258.30,413.38 C259.90,413.17 264.69,412.64 267.89,412.16 C271.08,411.69 274.28,411.29 277.48,410.55 C280.67,409.81 283.87,408.80 287.06,407.72 C290.26,406.64 293.45,405.09 296.65,404.08 C299.85,403.07 303.04,402.33 306.24,401.66 C309.43,400.99 312.63,400.52 315.82,400.04 C319.02,399.57 322.22,399.17 325.41,398.83 C328.61,398.50 333.40,398.16 335.00,398.02" fill="none" stroke="#ffc000" stroke-width="0.9"/>
<path d="M258.30,413.38 C259.90,413.24 264.69,412.97 267.89,412.57 C271.08,412.16 274.28,411.69 277.48,410.95 C280.67,410.21 283.87,409.07 287.06,408.12 C290.26,407.18 293.45,406.17 296.65,405.30 C299.85,404.42 303.04,403.55 306.24,402.87 C309.43,402.20 312.63,401.73 315.82,401.26 C319.02,400.78 322.22,400.38 325.41,400.04 C328.61,399.71 333.40,399.37 335.00,399.24" fill="none" stroke="#5b9bd5" stroke-width="0.9"/>
<path d="M258.30,413.38 C259.90,413.24 264.69,412.90 267.89,412.57 C271.08,412.23 274.28,411.96 277.48,411.36 C280.67,410.75 283.87,409.74 287.06,408.93 C290.26,408.12 293.45,407.25 296.65,406.51 C299.85,405.77 303.04,405.09 306.24,404.49 C309.43,403.88 312.63,403.34 315.82,402.87 C319.02,402.40 322.22,402.00 325.41,401.66 C328.61,401.32 333.40,400.99 335.00,400.85" fill="none" stroke="#70ad47" stroke-width="0.9"/>
<text x="12.50" y="448.20" font-size="7.3" text-anchor="start" font-weight="700" fill="#000" font-family='"Liberation Serif", serif' textLength="25.5" lengthAdjust="spacingAndGlyphs">HCT116</text>
<text x="45.20" y="448.20" font-size="7.3" text-anchor="start" font-weight="700" fill="#000" font-family='"Liberation Serif", serif' textLength="61.2" lengthAdjust="spacingAndGlyphs">LAT1 expression; 9.6</text>
<text x="20.50" y="456.70" font-size="5.6" text-anchor="middle" font-weight="400" fill="#333" font-family='"Liberation Serif", serif' >(%)</text>
<line x1="28.10" y1="500.90" x2="100.00" y2="500.90" stroke="#dcdcdc" stroke-width="0.7"/>
<text x="24.10" y="502.80" font-size="5.6" text-anchor="end" font-weight="400" fill="#555" font-family='"Liberation Serif", serif' >0</text>
<line x1="28.10" y1="492.74" x2="100.00" y2="492.74" stroke="#dcdcdc" stroke-width="0.7"/>
<text x="24.10" y="494.64" font-size="5.6" text-anchor="end" font-weight="400" fill="#555" font-family='"Liberation Serif", serif' >20</text>
<line x1="28.10" y1="484.58" x2="100.00" y2="484.58" stroke="#dcdcdc" stroke-width="0.7"/>
<text x="24.10" y="486.48" font-size="5.6" text-anchor="end" font-weight="400" fill="#555" font-family='"Liberation Serif", serif' >40</text>
<line x1="28.10" y1="476.42" x2="100.00" y2="476.42" stroke="#dcdcdc" stroke-width="0.7"/>
<text x="24.10" y="478.32" font-size="5.6" text-anchor="end" font-weight="400" fill="#555" font-family='"Liberation Serif", serif' >60</text>
<line x1="28.10" y1="468.26" x2="100.00" y2="468.26" stroke="#dcdcdc" stroke-width="0.7"/>
<text x="24.10" y="470.16" font-size="5.6" text-anchor="end" font-weight="400" fill="#555" font-family='"Liberation Serif", serif' >80</text>
<line x1="28.10" y1="460.10" x2="100.00" y2="460.10" stroke="#dcdcdc" stroke-width="0.7"/>
<text x="24.10" y="462.00" font-size="5.6" text-anchor="end" font-weight="400" fill="#555" font-family='"Liberation Serif", serif' >100</text>
<text x="29.10" y="510.50" font-size="5.6" text-anchor="middle" font-weight="400" fill="#555" font-family='"Liberation Serif", serif' >0</text>
<text x="37.26" y="510.50" font-size="5.6" text-anchor="middle" font-weight="400" fill="#555" font-family='"Liberation Serif", serif' >12</text>
<text x="45.43" y="510.50" font-size="5.6" text-anchor="middle" font-weight="400" fill="#555" font-family='"Liberation Serif", serif' >24</text>
<text x="53.59" y="510.50" font-size="5.6" text-anchor="middle" font-weight="400" fill="#555" font-family='"Liberation Serif", serif' >36</text>
<text x="61.75" y="510.50" font-size="5.6" text-anchor="middle" font-weight="400" fill="#555" font-family='"Liberation Serif", serif' >48</text>
<text x="69.91" y="510.50" font-size="5.6" text-anchor="middle" font-weight="400" fill="#555" font-family='"Liberation Serif", serif' >60</text>
<text x="78.08" y="510.50" font-size="5.6" text-anchor="middle" font-weight="400" fill="#555" font-family='"Liberation Serif", serif' >72</text>
<text x="86.24" y="510.50" font-size="5.6" text-anchor="middle" font-weight="400" fill="#555" font-family='"Liberation Serif", serif' >84</text>
<text x="94.40" y="510.50" font-size="5.6" text-anchor="middle" font-weight="400" fill="#555" font-family='"Liberation Serif", serif' >96</text>
<text x="100.90" y="510.04" font-size="5.9" text-anchor="start" font-weight="700" fill="#000" font-family='"Liberation Serif", serif' >(hour)</text>
<text transform="translate(11.70,474.00) rotate(-90)" x="0" y="0" font-size="7" font-weight="700" text-anchor="middle" font-family='"Liberation Serif", serif' textLength="28.5" lengthAdjust="spacingAndGlyphs">confluency</text>
<path d="M29.10,488.25 C30.56,486.28 34.94,479.89 37.86,476.42 C40.78,472.95 43.70,468.94 46.62,467.44 C49.55,465.95 52.47,467.51 55.39,467.44 C58.31,467.38 61.23,467.24 64.15,467.04 C67.07,466.83 69.99,466.49 72.91,466.22 C75.83,465.95 78.75,465.68 81.67,465.40 C84.60,465.13 87.52,464.79 90.44,464.59 C93.36,464.38 97.74,464.25 99.20,464.18" fill="none" stroke="#4472c4" stroke-width="0.9"/>
<path d="M29.10,488.25 C30.56,486.96 34.94,483.08 37.86,480.50 C40.78,477.92 43.70,474.24 46.62,472.75 C49.55,471.25 52.47,471.80 55.39,471.52 C58.31,471.25 61.23,471.25 64.15,471.12 C67.07,470.98 69.99,470.84 72.91,470.71 C75.83,470.57 78.75,470.44 81.67,470.30 C84.60,470.16 87.52,469.96 90.44,469.89 C93.36,469.82 97.74,469.89 99.20,469.89" fill="none" stroke="#ed7d31" stroke-width="0.9"/>
<path d="M29.10,488.25 C30.56,487.30 34.94,484.51 37.86,482.54 C40.78,480.57 43.70,477.71 46.62,476.42 C49.55,475.13 52.47,475.20 55.39,474.79 C58.31,474.38 61.23,474.24 64.15,473.97 C67.07,473.70 69.99,473.43 72.91,473.16 C75.83,472.88 78.75,472.61 81.67,472.34 C84.60,472.07 87.52,471.80 90.44,471.52 C93.36,471.25 97.74,470.84 99.20,470.71" fill="none" stroke="#a5a5a5" stroke-width="0.9"/>
<path d="M29.10,488.25 C30.56,487.78 34.94,486.48 37.86,485.40 C40.78,484.31 43.70,482.68 46.62,481.72 C49.55,480.77 52.47,480.30 55.39,479.68 C58.31,479.07 61.23,478.60 64.15,478.05 C67.07,477.51 69.99,476.90 72.91,476.42 C75.83,475.94 78.75,475.60 81.67,475.20 C84.60,474.79 87.52,474.31 90.44,473.97 C93.36,473.63 97.74,473.29 99.20,473.16" fill="none" stroke="#ffc000" stroke-width="0.9"/>
<path d="M29.10,488.25 C30.56,487.98 34.94,487.30 37.86,486.62 C40.78,485.94 43.70,484.92 46.62,484.17 C49.55,483.42 52.47,482.74 55.39,482.13 C58.31,481.52 61.23,481.04 64.15,480.50 C67.07,479.96 69.99,479.41 72.91,478.87 C75.83,478.32 78.75,477.78 81.67,477.24 C84.60,476.69 87.52,476.08 90.44,475.60 C93.36,475.13 97.74,474.58 99.20,474.38" fill="none" stroke="#5b9bd5" stroke-width="0.9"/>
<path d="M29.10,488.25 C30.56,488.05 34.94,487.50 37.86,487.03 C40.78,486.55 43.70,486.01 46.62,485.40 C49.55,484.78 52.47,483.97 55.39,483.36 C58.31,482.74 61.23,482.27 64.15,481.72 C67.07,481.18 69.99,480.57 72.91,480.09 C75.83,479.62 78.75,479.28 81.67,478.87 C84.60,478.46 87.52,478.05 90.44,477.64 C93.36,477.24 97.74,476.62 99.20,476.42" fill="none" stroke="#70ad47" stroke-width="0.9"/>
<text x="129.80" y="448.80" font-size="7.3" text-anchor="start" font-weight="700" fill="#000" font-family='"Liberation Serif", serif' textLength="16" lengthAdjust="spacingAndGlyphs">HT29</text>
<text x="154.00" y="448.80" font-size="7.3" text-anchor="start" font-weight="700" fill="#000" font-family='"Liberation Serif", serif' textLength="65.9" lengthAdjust="spacingAndGlyphs">LAT1 expression; 17.8</text>
<text x="136.50" y="455.10" font-size="5.6" text-anchor="middle" font-weight="400" fill="#333" font-family='"Liberation Serif", serif' >(%)</text>
<line x1="143.30" y1="500.00" x2="214.30" y2="500.00" stroke="#dcdcdc" stroke-width="0.7"/>
<text x="139.30" y="501.90" font-size="5.6" text-anchor="end" font-weight="400" fill="#555" font-family='"Liberation Serif", serif' >0</text>
<line x1="143.30" y1="492.02" x2="214.30" y2="492.02" stroke="#dcdcdc" stroke-width="0.7"/>
<text x="139.30" y="493.92" font-size="5.6" text-anchor="end" font-weight="400" fill="#555" font-family='"Liberation Serif", serif' >20</text>
<line x1="143.30" y1="484.04" x2="214.30" y2="484.04" stroke="#dcdcdc" stroke-width="0.7"/>
<text x="139.30" y="485.94" font-size="5.6" text-anchor="end" font-weight="400" fill="#555" font-family='"Liberation Serif", serif' >40</text>
<line x1="143.30" y1="476.06" x2="214.30" y2="476.06" stroke="#dcdcdc" stroke-width="0.7"/>
<text x="139.30" y="477.96" font-size="5.6" text-anchor="end" font-weight="400" fill="#555" font-family='"Liberation Serif", serif' >60</text>
<line x1="143.30" y1="468.08" x2="214.30" y2="468.08" stroke="#dcdcdc" stroke-width="0.7"/>
<text x="139.30" y="469.98" font-size="5.6" text-anchor="end" font-weight="400" fill="#555" font-family='"Liberation Serif", serif' >80</text>
<line x1="143.30" y1="460.10" x2="214.30" y2="460.10" stroke="#dcdcdc" stroke-width="0.7"/>
<text x="139.30" y="462.00" font-size="5.6" text-anchor="end" font-weight="400" fill="#555" font-family='"Liberation Serif", serif' >100</text>
<text x="144.50" y="508.30" font-size="5.6" text-anchor="middle" font-weight="400" fill="#555" font-family='"Liberation Serif", serif' >0</text>
<text x="153.69" y="508.30" font-size="5.6" text-anchor="middle" font-weight="400" fill="#555" font-family='"Liberation Serif", serif' >10</text>
<text x="162.87" y="508.30" font-size="5.6" text-anchor="middle" font-weight="400" fill="#555" font-family='"Liberation Serif", serif' >20</text>
<text x="172.06" y="508.30" font-size="5.6" text-anchor="middle" font-weight="400" fill="#555" font-family='"Liberation Serif", serif' >35</text>
<text x="181.24" y="508.30" font-size="5.6" text-anchor="middle" font-weight="400" fill="#555" font-family='"Liberation Serif", serif' >50</text>
<text x="190.43" y="508.30" font-size="5.6" text-anchor="middle" font-weight="400" fill="#555" font-family='"Liberation Serif", serif' >65</text>
<text x="199.61" y="508.30" font-size="5.6" text-anchor="middle" font-weight="400" fill="#555" font-family='"Liberation Serif", serif' >80</text>
<text x="208.80" y="508.30" font-size="5.6" text-anchor="middle" font-weight="400" fill="#555" font-family='"Liberation Serif", serif' >95</text>
<text x="216.20" y="507.84" font-size="5.9" text-anchor="start" font-weight="700" fill="#000" font-family='"Liberation Serif", serif' >(hour)</text>
<path d="M144.50,497.21 C146.14,496.94 151.07,496.34 154.36,495.61 C157.64,494.88 160.93,494.08 164.21,492.82 C167.50,491.55 170.79,489.76 174.07,488.03 C177.36,486.30 180.64,484.04 183.93,482.44 C187.21,480.85 190.50,479.32 193.79,478.45 C197.07,477.59 200.36,477.66 203.64,477.26 C206.93,476.86 211.86,476.26 213.50,476.06" fill="none" stroke="#4472c4" stroke-width="0.9"/>
<path d="M144.50,497.21 C146.14,496.94 151.07,496.28 154.36,495.61 C157.64,494.95 160.93,494.41 164.21,493.22 C167.50,492.02 170.79,490.09 174.07,488.43 C177.36,486.77 180.64,484.77 183.93,483.24 C187.21,481.71 190.50,480.18 193.79,479.25 C197.07,478.32 200.36,478.12 203.64,477.66 C206.93,477.19 211.86,476.66 213.50,476.46" fill="none" stroke="#ed7d31" stroke-width="0.9"/>
<path d="M144.50,497.21 C146.14,496.94 151.07,496.28 154.36,495.61 C157.64,494.95 160.93,494.35 164.21,493.22 C167.50,492.09 170.79,490.42 174.07,488.83 C177.36,487.23 180.64,485.17 183.93,483.64 C187.21,482.11 190.50,480.58 193.79,479.65 C197.07,478.72 200.36,478.52 203.64,478.06 C206.93,477.59 211.86,477.06 213.50,476.86" fill="none" stroke="#a5a5a5" stroke-width="0.9"/>
<path d="M144.50,497.21 C146.14,497.07 151.07,496.68 154.36,496.41 C157.64,496.14 160.93,495.94 164.21,495.61 C167.50,495.28 170.79,494.88 174.07,494.41 C177.36,493.95 180.64,493.42 183.93,492.82 C187.21,492.22 190.50,491.42 193.79,490.82 C197.07,490.22 200.36,489.76 203.64,489.23 C206.93,488.70 211.86,487.90 213.50,487.63" fill="none" stroke="#ffc000" stroke-width="0.9"/>
<path d="M144.50,497.21 C146.14,497.07 151.07,496.61 154.36,496.41 C157.64,496.21 160.93,496.08 164.21,496.01 C167.50,495.94 170.79,496.08 174.07,496.01 C177.36,495.94 180.64,495.81 183.93,495.61 C187.21,495.41 190.50,495.21 193.79,494.81 C197.07,494.41 200.36,493.68 203.64,493.22 C206.93,492.75 211.86,492.22 213.50,492.02" fill="none" stroke="#5b9bd5" stroke-width="0.9"/>
<path d="M144.50,497.21 C146.14,497.14 151.07,496.94 154.36,496.81 C157.64,496.68 160.93,496.48 164.21,496.41 C167.50,496.34 170.79,496.48 174.07,496.41 C177.36,496.34 180.64,496.08 183.93,496.01 C187.21,495.94 190.50,496.08 193.79,496.01 C197.07,495.94 200.36,495.81 203.64,495.61 C206.93,495.41 211.86,494.95 213.50,494.81" fill="none" stroke="#70ad47" stroke-width="0.9"/>
<text x="250.00" y="448.70" font-size="7.3" text-anchor="start" font-weight="700" fill="#000" font-family='"Liberation Serif", serif' textLength="16.8" lengthAdjust="spacingAndGlyphs">CT26</text>
<text x="273.50" y="448.70" font-size="7.3" text-anchor="start" font-weight="700" fill="#000" font-family='"Liberation Serif", serif' textLength="59.3" lengthAdjust="spacingAndGlyphs">LAT1 expression; 22</text>
<text x="253.20" y="454.30" font-size="5.6" text-anchor="middle" font-weight="400" fill="#333" font-family='"Liberation Serif", serif' >(%)</text>
<line x1="260.10" y1="499.90" x2="335.30" y2="499.90" stroke="#dcdcdc" stroke-width="0.7"/>
<text x="255.80" y="501.80" font-size="5.6" text-anchor="end" font-weight="400" fill="#555" font-family='"Liberation Serif", serif' >0</text>
<line x1="260.10" y1="492.00" x2="335.30" y2="492.00" stroke="#dcdcdc" stroke-width="0.7"/>
<text x="255.80" y="493.90" font-size="5.6" text-anchor="end" font-weight="400" fill="#555" font-family='"Liberation Serif", serif' >20</text>
<line x1="260.10" y1="484.10" x2="335.30" y2="484.10" stroke="#dcdcdc" stroke-width="0.7"/>
<text x="255.80" y="486.00" font-size="5.6" text-anchor="end" font-weight="400" fill="#555" font-family='"Liberation Serif", serif' >40</text>
<line x1="260.10" y1="476.20" x2="335.30" y2="476.20" stroke="#dcdcdc" stroke-width="0.7"/>
<text x="255.80" y="478.10" font-size="5.6" text-anchor="end" font-weight="400" fill="#555" font-family='"Liberation Serif", serif' >60</text>
<line x1="260.10" y1="468.30" x2="335.30" y2="468.30" stroke="#dcdcdc" stroke-width="0.7"/>
<text x="255.80" y="470.20" font-size="5.6" text-anchor="end" font-weight="400" fill="#555" font-family='"Liberation Serif", serif' >80</text>
<line x1="260.10" y1="460.40" x2="335.30" y2="460.40" stroke="#dcdcdc" stroke-width="0.7"/>
<text x="255.80" y="462.30" font-size="5.6" text-anchor="end" font-weight="400" fill="#555" font-family='"Liberation Serif", serif' >100</text>
<text x="261.30" y="508.80" font-size="5.6" text-anchor="middle" font-weight="400" fill="#555" font-family='"Liberation Serif", serif' >0</text>
<text x="270.94" y="508.80" font-size="5.6" text-anchor="middle" font-weight="400" fill="#555" font-family='"Liberation Serif", serif' >10</text>
<text x="280.59" y="508.80" font-size="5.6" text-anchor="middle" font-weight="400" fill="#555" font-family='"Liberation Serif", serif' >20</text>
<text x="290.23" y="508.80" font-size="5.6" text-anchor="middle" font-weight="400" fill="#555" font-family='"Liberation Serif", serif' >35</text>
<text x="299.87" y="508.80" font-size="5.6" text-anchor="middle" font-weight="400" fill="#555" font-family='"Liberation Serif", serif' >50</text>
<text x="309.51" y="508.80" font-size="5.6" text-anchor="middle" font-weight="400" fill="#555" font-family='"Liberation Serif", serif' >65</text>
<text x="319.16" y="508.80" font-size="5.6" text-anchor="middle" font-weight="400" fill="#555" font-family='"Liberation Serif", serif' >80</text>
<text x="328.80" y="508.80" font-size="5.6" text-anchor="middle" font-weight="400" fill="#555" font-family='"Liberation Serif", serif' >95</text>
<text x="335.30" y="508.34" font-size="5.9" text-anchor="start" font-weight="700" fill="#000" font-family='"Liberation Serif", serif' >(hour)</text>
<path d="M261.30,491.60 C263.04,490.75 268.27,488.51 271.76,486.47 C275.24,484.43 278.73,482.12 282.21,479.36 C285.70,476.59 289.19,471.86 292.67,469.88 C296.16,467.90 299.64,467.90 303.13,467.51 C306.61,467.12 310.10,467.38 313.59,467.51 C317.07,467.64 320.56,468.04 324.04,468.30 C327.53,468.56 332.76,468.96 334.50,469.09" fill="none" stroke="#4472c4" stroke-width="0.9"/>
<path d="M261.30,491.60 C263.04,491.28 268.27,490.16 271.76,489.63 C275.24,489.10 278.73,489.30 282.21,488.44 C285.70,487.59 289.19,485.88 292.67,484.50 C296.16,483.11 299.64,481.27 303.13,480.15 C306.61,479.03 310.10,478.44 313.59,477.78 C317.07,477.12 320.56,476.46 324.04,476.20 C327.53,475.94 332.76,476.20 334.50,476.20" fill="none" stroke="#ed7d31" stroke-width="0.9"/>
<path d="M261.30,491.60 C263.04,491.54 268.27,491.41 271.76,491.21 C275.24,491.01 278.73,490.68 282.21,490.42 C285.70,490.16 289.19,490.02 292.67,489.63 C296.16,489.24 299.64,488.58 303.13,488.05 C306.61,487.52 310.10,487.00 313.59,486.47 C317.07,485.94 320.56,485.28 324.04,484.89 C327.53,484.50 332.76,484.23 334.50,484.10" fill="none" stroke="#a5a5a5" stroke-width="0.9"/>
<path d="M261.30,491.60 C263.04,491.47 268.27,491.01 271.76,490.81 C275.24,490.62 278.73,490.55 282.21,490.42 C285.70,490.29 289.19,490.09 292.67,490.02 C296.16,489.96 299.64,490.16 303.13,490.02 C306.61,489.89 310.10,489.50 313.59,489.23 C317.07,488.97 320.56,488.71 324.04,488.44 C327.53,488.18 332.76,487.79 334.50,487.65" fill="none" stroke="#ffc000" stroke-width="0.9"/>
<path d="M261.30,491.60 C263.04,491.41 268.27,490.75 271.76,490.42 C275.24,490.09 278.73,489.76 282.21,489.63 C285.70,489.50 289.19,489.63 292.67,489.63 C296.16,489.63 299.64,489.70 303.13,489.63 C306.61,489.56 310.10,489.37 313.59,489.23 C317.07,489.10 320.56,488.97 324.04,488.84 C327.53,488.71 332.76,488.51 334.50,488.44" fill="none" stroke="#5b9bd5" stroke-width="0.9"/>
<path d="M261.30,492.00 C263.04,492.00 268.27,492.07 271.76,492.00 C275.24,491.93 278.73,491.67 282.21,491.60 C285.70,491.54 289.19,491.60 292.67,491.60 C296.16,491.60 299.64,491.67 303.13,491.60 C306.61,491.54 310.10,491.28 313.59,491.21 C317.07,491.14 320.56,491.21 324.04,491.21 C327.53,491.21 332.76,491.21 334.50,491.21" fill="none" stroke="#70ad47" stroke-width="0.9"/>
<line x1="241.00" y1="521.90" x2="253.50" y2="521.90" stroke="#4472c4" stroke-width="1.6"/>
<text x="259.70" y="523.48" font-size="6.4" text-anchor="start" font-weight="700" fill="#000" font-family='"Liberation Serif", serif' textLength="19.7" lengthAdjust="spacingAndGlyphs">control</text>
<line x1="304.90" y1="521.90" x2="318.00" y2="521.90" stroke="#ffc000" stroke-width="1.6"/>
<text x="361.00" y="523.48" font-size="6.4" text-anchor="end" font-weight="700" fill="#000" font-family='"Liberation Serif", serif' textLength="35.3" lengthAdjust="spacingAndGlyphs">5 μM JPH203</text>
<line x1="241.00" y1="533.50" x2="253.50" y2="533.50" stroke="#ed7d31" stroke-width="1.6"/>
<text x="259.70" y="535.08" font-size="6.4" text-anchor="start" font-weight="700" fill="#000" font-family='"Liberation Serif", serif' textLength="36.3" lengthAdjust="spacingAndGlyphs">1 μM JPH203</text>
<line x1="304.90" y1="533.50" x2="318.00" y2="533.50" stroke="#5b9bd5" stroke-width="1.6"/>
<text x="361.00" y="535.08" font-size="6.4" text-anchor="end" font-weight="700" fill="#000" font-family='"Liberation Serif", serif' textLength="38.6" lengthAdjust="spacingAndGlyphs">10 μM JPH203</text>
<line x1="241.00" y1="544.40" x2="253.50" y2="544.40" stroke="#a5a5a5" stroke-width="1.6"/>
<text x="259.70" y="545.98" font-size="6.4" text-anchor="start" font-weight="700" fill="#000" font-family='"Liberation Serif", serif' textLength="36.3" lengthAdjust="spacingAndGlyphs">2 μM JPH203</text>
<line x1="304.90" y1="544.40" x2="318.00" y2="544.40" stroke="#70ad47" stroke-width="1.6"/>
<text x="361.00" y="545.98" font-size="6.4" text-anchor="end" font-weight="700" fill="#000" font-family='"Liberation Serif", serif' textLength="38.6" lengthAdjust="spacingAndGlyphs">20 μM JPH203</text>
</svg>
</body></html>
